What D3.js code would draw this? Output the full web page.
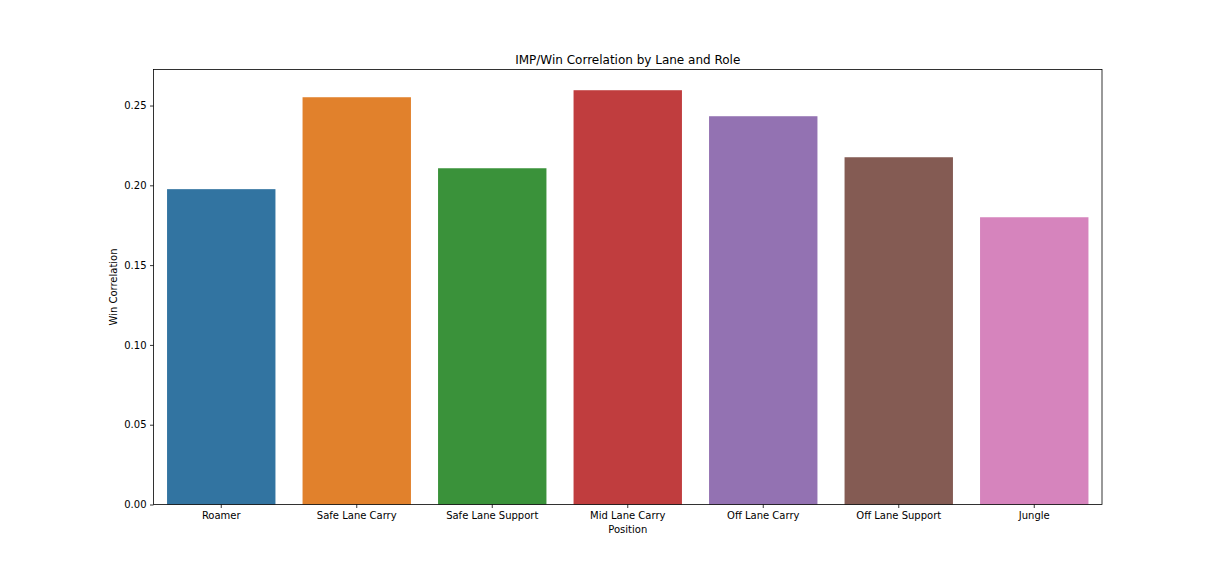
<!DOCTYPE html>
<html><head><meta charset="utf-8">
<script src="https://cdn.jsdelivr.net/npm/d3@7"></script>
<style>body{margin:0;background:#fff}text{font-family:"DejaVu Sans",sans-serif;fill:#000}</style>
</head><body><svg id="c" width="1224" height="576"></svg>
<script>
const categories = ["Roamer","Safe Lane Carry","Safe Lane Support","Mid Lane Carry","Off Lane Carry","Off Lane Support","Jungle"];
const values = [0.1976,0.2552,0.2107,0.2596,0.2433,0.2176,0.1800];
const colors = ["#3274a1","#e1812c","#3a923a","#c03d3e","#9372b2","#845b53","#d684bd"];
const yTicks = [0,0.05,0.10,0.15,0.20,0.25];

const svg = d3.select("#c");
const L=153.5,R=1102,T=69.5,B=504.5;
const x = d3.scaleBand().domain(categories).range([L,R]).paddingInner(0.2).paddingOuter(0.1);
const y = d3.scaleLinear().domain([0, d3.max(values)*1.05]).range([B,T]);

svg.append("g").selectAll("rect").data(categories).join("rect")
  .attr("x",d=>x(d)).attr("width",x.bandwidth())
  .attr("y",(d,i)=>y(values[i])).attr("height",(d,i)=>B-y(values[i]))
  .attr("fill",(d,i)=>colors[i]);

const ya = svg.append("g").attr("transform",`translate(${L},0)`)
  .call(d3.axisLeft(y).tickValues(yTicks).tickFormat(d3.format(".2f")).tickSize(3.5).tickPadding(3.5));
const xa = svg.append("g").attr("transform",`translate(0,${B})`)
  .call(d3.axisBottom(x).tickSize(3.5).tickPadding(3.5));
[ya,xa].forEach(g=>{g.select(".domain").remove();g.selectAll("line").attr("stroke","#000").attr("stroke-width",0.8);g.selectAll("text").attr("font-size",10).attr("font-family","DejaVu Sans").attr("fill","#000");});

svg.append("rect").attr("x",L).attr("y",T).attr("width",R-L).attr("height",B-T)
  .attr("fill","none").attr("stroke","#000").attr("stroke-width",0.8);

svg.append("text").attr("x",(L+R)/2).attr("y",T-6).attr("text-anchor","middle").attr("font-size",12).text("IMP/Win Correlation by Lane and Role");
svg.append("text").attr("x",(L+R)/2).attr("y",533).attr("text-anchor","middle").attr("font-size",10).text("Position");
svg.append("text").attr("transform",`translate(117,${(T+B)/2}) rotate(-90)`).attr("text-anchor","middle").attr("font-size",10).text("Win Correlation");
</script></body></html>
